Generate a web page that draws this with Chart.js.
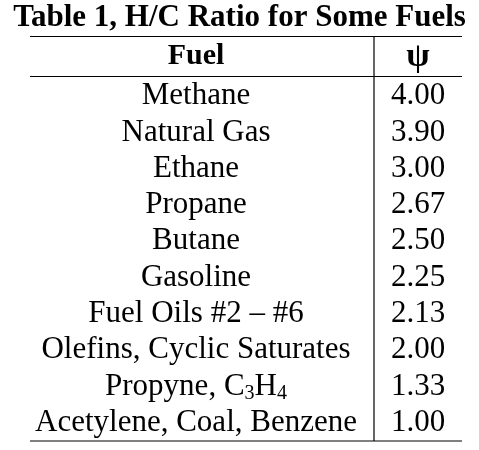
<!DOCTYPE html>
<html>
<head>
<meta charset="utf-8">
<script src="https://cdn.jsdelivr.net/npm/chart.js@4"></script>
<style>
  html, body { margin: 0; padding: 0; background: #fff; }
  #wrap { width: 479px; height: 450px; }
</style>
</head>
<body>
<div id="wrap"><canvas id="table-chart"></canvas></div>
<script>
// Data
const title = 'Table 1, H/C Ratio for Some Fuels';
const headers = ['Fuel', 'ψ'];
const fuels = ['Methane', 'Natural Gas', 'Ethane', 'Propane', 'Butane', 'Gasoline',
  'Fuel Oils #2 – #6', 'Olefins, Cyclic Saturates', 'Propyne, C3H4', 'Acetylene, Coal, Benzene'];
const psi = [4.00, 3.90, 3.00, 2.67, 2.50, 2.25, 2.13, 2.00, 1.33, 1.00];

const serif = '"Liberation Serif", "DejaVu Serif", serif';
const divX = 374;
const rowSize = 31;

// draw fuel name, handling subscripts for chemical formula
function drawFuel(ctx, text, cx, cy) {
  const m = text.match(/^(.*)C(\d)H(\d)$/);
  if (!m) { ctx.textAlign = 'center'; ctx.fillText(text, cx, cy); return; }
  const parts = [[m[1] + 'C', rowSize, 0], [m[2], 20, 7], ['H', rowSize, 0], [m[3], 20, 7]];
  let total = 0;
  parts.forEach(p => { ctx.font = p[1] + 'px ' + serif; total += ctx.measureText(p[0]).width; });
  let x = cx - total / 2;
  ctx.textAlign = 'left';
  parts.forEach(p => {
    ctx.font = p[1] + 'px ' + serif;
    ctx.fillText(p[0], x, cy + p[2]);
    x += ctx.measureText(p[0]).width;
  });
}

const tablePlugin = {
  id: 'tablePlugin',
  afterDraw(chart) {
    const ctx = chart.ctx;
    const area = chart.chartArea;
    const y = chart.scales.y;
    const left = area.left, right = area.right;
    const fuelX = 196, psiX = (divX + right) / 2;
    ctx.save();
    ctx.fillStyle = '#000';
    ctx.strokeStyle = '#000';
    ctx.textBaseline = 'middle';

    ctx.font = 'bold 31px ' + serif;
    ctx.textAlign = 'center';
    ctx.fillText(title, chart.width / 2, 18);

    ctx.font = 'bold 30px ' + serif;
    ctx.fillText(headers[0], fuelX, 56);
    ctx.font = 'bold 34px ' + serif;
    ctx.fillText(headers[1], psiX, 57);

    ctx.lineWidth = 1.2;
    ctx.beginPath();
    ctx.moveTo(left, 36.5); ctx.lineTo(right, 36.5);
    ctx.moveTo(left, area.top - 1.5); ctx.lineTo(right, area.top - 1.5);
    ctx.moveTo(left, area.bottom); ctx.lineTo(right, area.bottom);
    ctx.moveTo(divX, 36.5); ctx.lineTo(divX, area.bottom);
    ctx.stroke();

    fuels.forEach((f, i) => {
      const cy = y.getPixelForValue(i);
      ctx.font = rowSize + 'px ' + serif;
      drawFuel(ctx, f, fuelX, cy);
      ctx.font = rowSize + 'px ' + serif;
      ctx.textAlign = 'center';
      ctx.fillText(psi[i].toFixed(2), psiX, cy);
    });
    ctx.restore();
  }
};

new Chart(document.getElementById('table-chart'), {
  type: 'bar',
  data: {
    labels: fuels,
    datasets: [{ data: psi, backgroundColor: 'rgba(0,0,0,0)' }]
  },
  options: {
    indexAxis: 'y',
    responsive: true,
    maintainAspectRatio: false,
    animation: false,
    layout: { padding: { top: 78, bottom: 9, left: 30, right: 17 } },
    plugins: { legend: { display: false }, tooltip: { enabled: false } },
    scales: {
      x: { display: false, min: 0, max: 5 },
      y: { display: false }
    }
  },
  plugins: [tablePlugin]
});
</script>
</body>
</html>
